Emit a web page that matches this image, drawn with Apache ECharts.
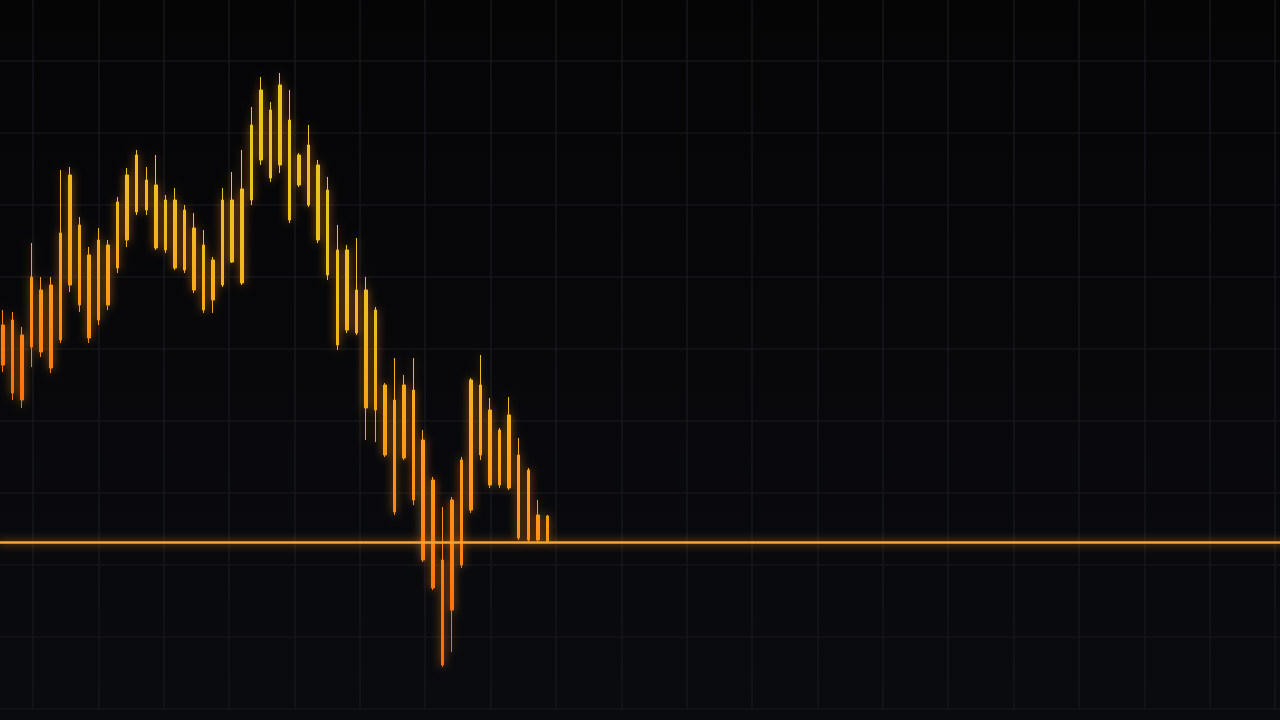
<!DOCTYPE html>
<html>
<head>
<meta charset="utf-8">
<script src="https://cdn.jsdelivr.net/npm/echarts@6/dist/echarts.min.js"></script>
<style>
html,body{margin:0;padding:0;background:#060709;}
#chart{width:1280px;height:720px;}
</style>
</head>
<body>
<div id="chart"></div>
<script>
// Candles: [open, close, low, high]
const candles = [
  [344, 384, 337, 399],
  [389, 316, 309, 397],
  [309, 374, 301, 382],
  [362, 432, 342, 466],
  [419, 357, 352, 432],
  [341, 424, 336, 432],
  [369, 476, 366, 539],
  [424, 534, 417, 542],
  [484, 404, 397, 492],
  [371, 454, 366, 462],
  [389, 469, 384, 481],
  [464, 404, 399, 469],
  [441, 507, 436, 512],
  [469, 534, 462, 541],
  [497, 554, 494, 559],
  [529, 499, 494, 542],
  [524, 461, 459, 554],
  [509, 459, 456, 514],
  [441, 509, 439, 521],
  [499, 439, 436, 504],
  [481, 419, 416, 496],
  [464, 399, 396, 479],
  [409, 449, 396, 452],
  [424, 509, 422, 521],
  [447, 509, 446, 537],
  [426, 520, 424, 559],
  [509, 584, 504, 602],
  [549, 619, 544, 632],
  [599, 531, 527, 607],
  [544, 624, 536, 636],
  [589, 489, 486, 619],
  [524, 554, 522, 556],
  [564, 504, 502, 584],
  [544, 469, 466, 549],
  [519, 434, 429, 532],
  [459, 364, 359, 484],
  [459, 379, 376, 464],
  [376, 419, 374, 471],
  [419, 301, 269, 432],
  [399, 299, 267, 402],
  [324, 254, 252, 326],
  [309, 197, 194, 351],
  [251, 324, 249, 334],
  [319, 209, 204, 351],
  [269, 149, 147, 279],
  [229, 121, 119, 232],
  [149, 44, 42, 202],
  [99, 209, 57, 212],
  [144, 249, 141, 252],
  [199, 329, 196, 331],
  [254, 324, 249, 354],
  [299, 224, 221, 311],
  [224, 279, 221, 281],
  [294, 221, 219, 312],
  [254, 171, 169, 271],
  [239, 169, 167, 241],
  [194, 169, 167, 209],
  [168, 193, 167, 194]
];
const slotCount = 135;
const categories = [];
for (let i = 0; i < slotCount; i++) categories.push('T' + (i + 1));
const baseLevel = 167;
const yMin = 0, yMax = 720, yInterval = 72;
const gridColsMax = 21;

const seriesData = categories.map((c, i) => i < candles.length ? candles[i] : '-');

const warm = {
  type: 'linear', x: 480, y: 60, x2: 160, y2: 700, global: true,
  colorStops: [
    { offset: 0.08, color: '#e4cc22' },
    { offset: 0.38, color: '#eec020' },
    { offset: 0.50, color: '#fca21c' },
    { offset: 0.60, color: '#ff8a16' },
    { offset: 0.70, color: '#ff7010' },
    { offset: 0.85, color: '#ff600e' }
  ]
};

const chart = echarts.init(document.getElementById('chart'), null, { renderer: 'canvas' });
chart.setOption({
  animation: false,
  backgroundColor: {
    type: 'linear', x: 0, y: 0, x2: 0, y2: 1,
    colorStops: [{ offset: 0, color: '#050506' }, { offset: 1, color: '#0a0b0f' }]
  },
  grid: [
    { left: -32.4, right: -60.4, top: -11, bottom: 11, containLabel: false, outerBoundsMode: 'none' },
    { left: -1.775, right: -7.5, top: -11, bottom: 11, containLabel: false, outerBoundsMode: 'none' }
  ],
  xAxis: [
    {
      type: 'value', gridIndex: 0, min: 0, max: gridColsMax, interval: 1,
      axisLine: { show: false }, axisTick: { show: false }, axisLabel: { show: false },
      splitLine: { show: true, lineStyle: { color: '#16171b', width: 1.5 } }
    },
    {
      type: 'category', gridIndex: 1, data: categories, boundaryGap: true,
      axisLine: { show: false }, axisTick: { show: false }, axisLabel: { show: false },
      splitLine: { show: false }
    }
  ],
  yAxis: [
    {
      type: 'value', gridIndex: 0, min: yMin, max: yMax, interval: yInterval,
      axisLine: { show: false }, axisTick: { show: false }, axisLabel: { show: false },
      splitLine: { show: true, lineStyle: { color: '#141518', width: 1.5 } }
    },
    {
      type: 'value', gridIndex: 1, min: yMin, max: yMax, interval: yInterval,
      axisLine: { show: false }, axisTick: { show: false }, axisLabel: { show: false },
      splitLine: { show: false }
    }
  ],
  series: [
    {
      type: 'candlestick',
      xAxisIndex: 1, yAxisIndex: 1,
      data: seriesData,
      barWidth: 3,
      itemStyle: {
        color: warm, color0: warm, borderColor: warm, borderColor0: warm,
        borderWidth: 1,
        shadowBlur: 8, shadowColor: 'rgba(255,140,20,0.55)'
      },
      markLine: {
        silent: true,
        symbol: ['none', 'none'],
        label: { show: false },
        lineStyle: { color: '#f4a436', width: 2.5, type: 'solid', shadowBlur: 8, shadowColor: 'rgba(255,130,0,0.8)' },
        data: [{ yAxis: baseLevel }]
      }
    }
  ]
});
</script>
</body>
</html>
